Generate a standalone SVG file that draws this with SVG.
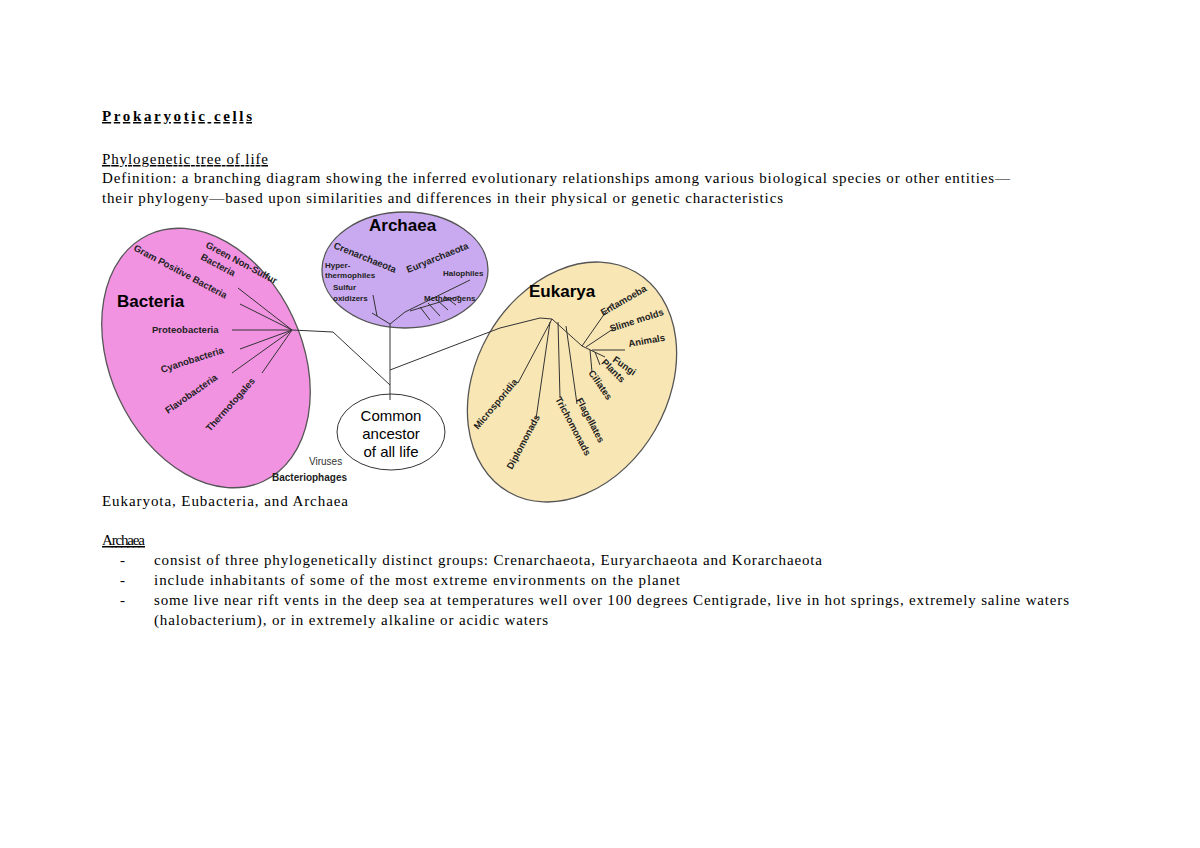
<svg xmlns="http://www.w3.org/2000/svg" width="1200" height="848" viewBox="0 0 1200 848">
<style>
.t{font-family:"Liberation Serif",serif;font-size:15px;fill:#000}
.u{text-decoration:underline}
.l{font-family:"Liberation Sans",Arial,sans-serif;font-weight:bold;font-size:9.5px;fill:#222}
.s{font-family:"Liberation Sans",Arial,sans-serif;font-size:8px;font-weight:bold;fill:#222}
.h{font-family:"Liberation Sans",Arial,sans-serif;font-weight:bold;font-size:17px;fill:#000}
.br{stroke:#333;stroke-width:1;fill:none}
.ell{stroke:#555;stroke-width:1.3}
</style>
<rect width="1200" height="848" fill="#fff"/>
<text class="t u" x="102" y="121" font-weight="bold" textLength="150">Prokaryotic cells </text>
<text class="t u" x="102" y="164" textLength="166">Phylogenetic tree of life</text>
<text class="t" x="102" y="183" textLength="908">Definition: a branching diagram showing the inferred evolutionary relationships among various biological species or other entities—</text>
<text class="t" x="102" y="203" textLength="681">their phylogeny—based upon similarities and differences in their physical or genetic characteristics</text>

<g id="bacteria">
<ellipse class="ell" cx="206" cy="358" rx="96" ry="136" transform="rotate(-25 206 358)" fill="#f293e2"/>
<text class="h" x="117" y="307">Bacteria</text>
</g>
<g id="archaea">
<ellipse class="ell" cx="405" cy="270" rx="83" ry="58" fill="#c9aaf0"/>
<text class="h" x="369" y="231">Archaea</text>
</g>
<g id="eukarya">
<ellipse class="ell" cx="572" cy="382" rx="96" ry="127" transform="rotate(30 572 382)" fill="#f8e6b4"/>
<text class="h" x="529" y="297">Eukarya</text>
</g>
<g id="ancestor">
<ellipse cx="391" cy="432" rx="54" ry="38" fill="#fff" stroke="#333" stroke-width="1"/>
<text font-family="Liberation Sans,Arial,sans-serif" font-size="15" text-anchor="middle" x="391" y="421">Common</text>
<text font-family="Liberation Sans,Arial,sans-serif" font-size="15" text-anchor="middle" x="391" y="439">ancestor</text>
<text font-family="Liberation Sans,Arial,sans-serif" font-size="15" text-anchor="middle" x="391" y="457">of all life</text>
</g>

<g id="connectors">
<path class="br" d="M292 330 L333 332 L390 385"/>
<path class="br" d="M292 330 L240 304 M292 330 L238 288 M292 330 L232 330 M292 330 L240 349 M292 330 L232 373 M292 330 L262 373"/>
<path class="br" d="M390 400 V324 L372 313 M390 324 L405 312 L470 280 M377 316 L373 295 M410 311 L460 296 M420 307 L430 320 M428 303 L440 316 M436 299 L448 310 M444 296 L456 305"/>
<path class="br" d="M390 370 L450 347 L500 328 L540 318 L552 319 L582 346 L605 357"/>
<path class="br" d="M552 319 L518 383 M550 322 L536 419 M558 322 L560 398 M566 326 L577 404 M582 346 L612 303 M586 347 L616 327 M592 350 L625 350 M595 352 L600 365 M590 350 L592 372"/>
</g>

<g id="labels">
<text class="l" transform="translate(205 247) rotate(28)">Green Non-Sulfur</text>
<text class="l" transform="translate(200 259) rotate(28)">Bacteria</text>
<text class="l" transform="translate(133 250) rotate(28)">Gram Positive Bacteria</text>
<text class="l" x="152" y="333">Proteobacteria</text>
<text class="l" transform="translate(162 373) rotate(-18)">Cyanobacteria</text>
<text class="l" transform="translate(168 414) rotate(-35)">Flavobacteria</text>
<text class="l" transform="translate(210 432) rotate(-48)">Thermotogales</text>

<text class="l" transform="translate(333 248) rotate(22)">Crenarchaeota</text>
<text class="l" transform="translate(408 273) rotate(-22)">Euryarchaeota</text>
<text class="s" x="325" y="268">Hyper-</text>
<text class="s" x="325" y="278">thermophiles</text>
<text class="s" x="333" y="290">Sulfur</text>
<text class="s" x="333" y="301">oxidizers</text>
<text class="s" x="443" y="276">Halophiles</text>
<text class="s" x="424" y="301">Methanogens</text>

<text class="l" transform="translate(603 316) rotate(-30)">Entamoeba</text>
<text class="l" transform="translate(611 332) rotate(-18)">Slime molds</text>
<text class="l" x="629" y="347" transform="rotate(-10 629 347)">Animals</text>
<text class="l" transform="translate(612 361) rotate(35)">Fungi</text>
<text class="l" transform="translate(601 363) rotate(45)">Plants</text>
<text class="l" transform="translate(588 373) rotate(55)">Ciliates</text>
<text class="l" transform="translate(576 400) rotate(62)">Flagellates</text>
<text class="l" transform="translate(555 399) rotate(62)">Trichomonads</text>
<text class="l" transform="translate(512 470) rotate(-62)">Diplomonads</text>
<text class="l" transform="translate(478 430) rotate(-50)">Microsporidia</text>

<text font-family="Liberation Sans,Arial,sans-serif" font-size="10" fill="#333" x="309" y="465">Viruses</text>
<text font-family="Liberation Sans,Arial,sans-serif" font-size="10" fill="#222" font-weight="bold" x="272" y="481">Bacteriophages</text>
</g>

<text class="t" x="102" y="506" textLength="246">Eukaryota, Eubacteria, and Archaea</text>
<text class="t u" x="102" y="545" textLength="43">Archaea</text>
<text class="t" x="120" y="565">-</text>
<text class="t" x="154" y="565" textLength="668">consist of three phylogenetically distinct groups: Crenarchaeota, Euryarchaeota and Korarchaeota</text>
<text class="t" x="120" y="585">-</text>
<text class="t" x="154" y="585" textLength="526">include inhabitants of some of the most extreme environments on the planet</text>
<text class="t" x="120" y="605">-</text>
<text class="t" x="154" y="605" textLength="915">some live near rift vents in the deep sea at temperatures well over 100 degrees Centigrade, live in hot springs, extremely saline waters</text>
<text class="t" x="154" y="625" textLength="394">(halobacterium), or in extremely alkaline or acidic waters</text>
</svg>
